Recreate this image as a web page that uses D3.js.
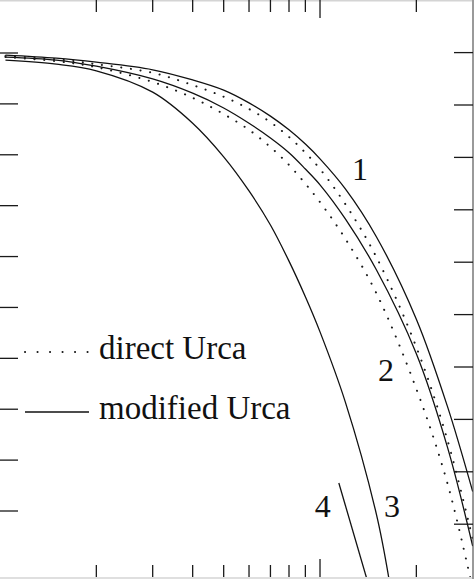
<!DOCTYPE html>
<html>
<head>
<meta charset="utf-8">
<script src="https://cdn.jsdelivr.net/npm/d3@7"></script>
<style>
  html, body { margin: 0; padding: 0; background: #fff; }
  svg { display: block; }
  text { font-family: "Liberation Serif", "Times New Roman", serif; fill: #111; }
</style>
</head>
<body>
<div id="chart"></div>
<script>
// sampled times (log axis) shared by the long curves
const times = [1.04, 1.5, 2, 3, 4, 5, 6, 7, 8, 9, 10, 12, 15, 20, 25, 30];

// modified Urca (solid) and direct Urca (dotted) cooling tracks, left-axis units
const modUrca1 = [5.996, 5.990, 5.982, 5.967, 5.947, 5.927, 5.902, 5.876, 5.849, 5.821, 5.792, 5.733, 5.639, 5.477, 5.306, 5.138];
const dirUrca1 = [5.994, 5.988, 5.978, 5.961, 5.937, 5.914, 5.890, 5.864, 5.835, 5.804, 5.772, 5.703, 5.599, 5.422, 5.240, 5.045];
const modUrca2 = [5.992, 5.986, 5.974, 5.949, 5.921, 5.892, 5.862, 5.833, 5.804, 5.772, 5.741, 5.674, 5.574, 5.409, 5.226, 5.031];
const dirUrca2 = [5.992, 5.984, 5.972, 5.943, 5.912, 5.880, 5.849, 5.815, 5.780, 5.743, 5.707, 5.635, 5.528, 5.340, 5.155, 4.947];

const times3 = [1.04, 1.5, 2, 3, 4, 5, 6, 7, 8, 9, 10, 12, 15, 16.4];
const modUrca3 = [5.986, 5.978, 5.965, 5.923, 5.862, 5.796, 5.729, 5.662, 5.591, 5.521, 5.452, 5.314, 5.094, 4.969];

const times4 = [11.45, 14.0];
const modUrca4 = [5.155, 4.967];

// curve numbers
const labelText = ["1", "2", "3", "4"];
const labelTime = [13.34, 16.08, 16.8, 10.2];
const labelVal = [5.750, 5.356, 5.088, 5.088];

// legend entries
const legendNames = ["direct Urca", "modified Urca"];

// axis ticks
const xTicks = [2, 3, 4, 5, 6, 7, 8, 9, 10, 20];
const yLeftTicks = [6.0, 5.9, 5.8, 5.7, 5.6, 5.5, 5.4, 5.3, 5.2, 5.1];
const yRightTicks = [34.0, 33.5, 33.0, 32.5, 32.0, 31.5, 31.0, 30.5, 30.0, 29.5];

const width = 474, height = 579;
const plotW = 472.7, plotH = 577;

const svg = d3.select("#chart")
    .append("svg")
    .attr("width", width)
    .attr("height", height);

const x = d3.scaleLog().domain([1, 30]).range([0, plotW]);
const y = d3.scaleLinear().domain([5.1, 6.0]).range([511, 53]);
const yR = d3.scaleLinear().domain([29.5, 34.0]).range([524.2, 52.6]);

// clip to the frame
svg.append("clipPath")
    .attr("id", "plot-clip")
    .append("rect")
    .attr("x", 0).attr("y", 0)
    .attr("width", plotW).attr("height", plotH);

// frame edges (cropped box)
svg.append("line").attr("x1", 0).attr("x2", width).attr("y1", 0.8).attr("y2", 0.8)
    .attr("stroke", "#d4d4d4").attr("stroke-width", 1.6);
svg.append("line").attr("x1", 0).attr("x2", width).attr("y1", 578).attr("y2", 578)
    .attr("stroke", "#d4d4d4").attr("stroke-width", 1.6);
svg.append("line").attr("x1", 473).attr("x2", 473).attr("y1", 0).attr("y2", height)
    .attr("stroke", "#9a9a9a").attr("stroke-width", 2);

const tickColor = "#1a1a1a";
const isMajor = d => Math.abs(Math.log10(d) - Math.round(Math.log10(d))) < 1e-9;

// top and bottom ticks
const tickG = svg.append("g").attr("stroke", tickColor).attr("stroke-width", 1.3);
tickG.selectAll(".xt-top")
    .data(xTicks)
    .join("line")
    .attr("x1", d => x(d)).attr("x2", d => x(d))
    .attr("y1", 0).attr("y2", d => isMajor(d) ? 18 : 12);
tickG.selectAll(".xt-bot")
    .data(xTicks)
    .join("line")
    .attr("x1", d => x(d)).attr("x2", d => x(d))
    .attr("y1", plotH).attr("y2", d => plotH - (isMajor(d) ? 18 : 12));

// left and right ticks
tickG.selectAll(".yt-left")
    .data(yLeftTicks)
    .join("line")
    .attr("x1", 0).attr("x2", 18)
    .attr("y1", d => y(d)).attr("y2", d => y(d));
tickG.selectAll(".yt-right")
    .data(yRightTicks)
    .join("line")
    .attr("x1", 454).attr("x2", 473)
    .attr("y1", d => yR(d)).attr("y2", d => yR(d));

// curves
const line = d3.line()
    .x(d => x(d[0]))
    .y(d => y(d[1]))
    .curve(d3.curveCatmullRom.alpha(0.5));

const series = [
    { t: times, v: modUrca1, dotted: false },
    { t: times, v: dirUrca1, dotted: true },
    { t: times, v: modUrca2, dotted: false },
    { t: times, v: dirUrca2, dotted: true },
    { t: times3, v: modUrca3, dotted: false },
    { t: times4, v: modUrca4, dotted: false }
];

const curveG = svg.append("g").attr("clip-path", "url(#plot-clip)");
curveG.selectAll("path")
    .data(series)
    .join("path")
    .attr("d", s => line(s.t.map((t, i) => [t, s.v[i]])))
    .attr("fill", "none")
    .attr("stroke", s => s.dotted ? "#1a1a1a" : "#111")
    .attr("stroke-width", s => s.dotted ? 2 : 1.3)
    .attr("stroke-linecap", s => s.dotted ? "round" : "butt")
    .attr("stroke-dasharray", s => s.dotted ? "0.1 9.6" : null);

// curve numbers
svg.selectAll(".num")
    .data(labelText)
    .join("text")
    .attr("x", (d, i) => x(labelTime[i]))
    .attr("y", (d, i) => y(labelVal[i]))
    .attr("text-anchor", "middle")
    .attr("font-size", 32)
    .text(d => d);

// legend
const legend = svg.append("g");
legendNames.forEach((name, i) => {
    const ly = 352 + i * 60;
    legend.append("line")
        .attr("x1", 25).attr("x2", 89)
        .attr("y1", ly).attr("y2", ly)
        .attr("stroke", i === 0 ? "#1a1a1a" : "#111")
        .attr("stroke-width", i === 0 ? 2 : 1.3)
        .attr("stroke-linecap", i === 0 ? "round" : "butt")
        .attr("stroke-dasharray", i === 0 ? "0.1 12.4" : null);
    legend.append("text")
        .attr("x", 99)
        .attr("y", ly + 7)
        .attr("font-size", 33)
        .text(name);
});
</script>
</body>
</html>
